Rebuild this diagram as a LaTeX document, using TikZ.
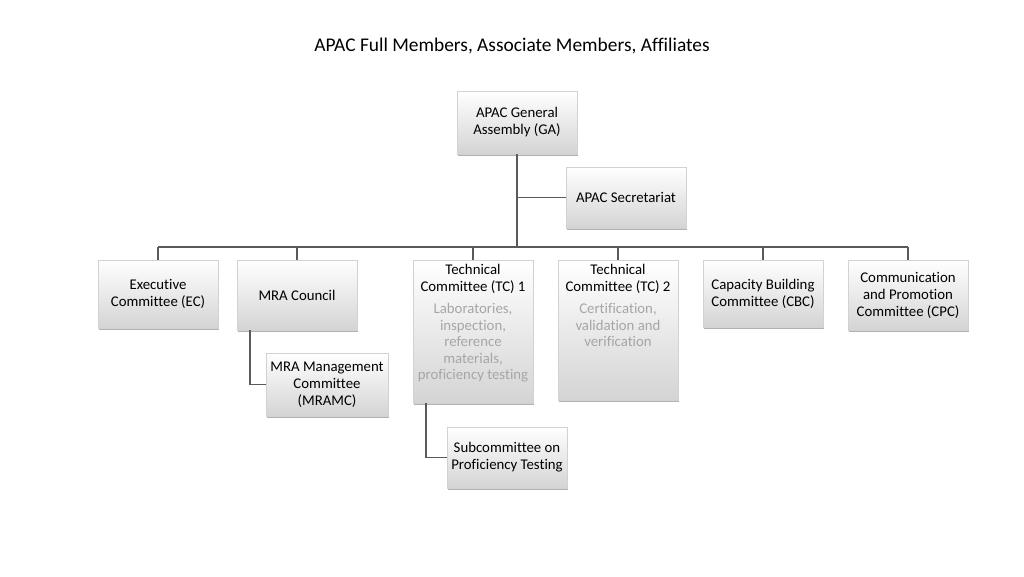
\documentclass[tikz,border=0pt]{standalone}
\usepackage{fontspec}
\setmainfont{Carlito}[Ligatures=CommonOff]
\usetikzlibrary{shadows}
\definecolor{conncol}{HTML}{5A5A5A}
\definecolor{desc}{HTML}{A6A6A6}
\definecolor{boxbot}{HTML}{D4D4D4}
\begin{document}
\begin{tikzpicture}[x=1pt,y=-1pt,
  box/.style={draw=gray!35, line width=0.4pt, top color=white, bottom color=boxbot,
    drop shadow={shadow xshift=1.2pt, shadow yshift=-1.8pt, opacity=0.5, fill=black!60},
    minimum width=120pt, align=center, inner sep=1pt,
    font=\fontsize{14.8}{17}\selectfont},
  btext/.style={anchor=north, align=center, inner sep=1pt, font=\fontsize{14.8}{16.5}\selectfont},
  conn/.style={draw=conncol, line width=1.2pt},
  trunk/.style={draw=conncol, line width=1.8pt}]
\useasboundingbox (0,0) rectangle (1024,576);
\node[font=\fontsize{19.4}{22}\selectfont] (title) at (512,46) {APAC Full Members, Associate Members, Affiliates};

\node[box, minimum height=63pt] (ga) at (517,122.5) {APAC General\\Assembly (GA)};
\node[box, minimum height=61pt] (sec) at (626,197.5) {APAC Secretariat};

\node[box, minimum height=68pt] (ec) at (158,294) {Executive\\Committee (EC)};
\node[box, minimum height=70pt] (mra) at (297,295) {MRA Council};
\node[box, minimum height=143pt, anchor=north] (tc1) at (473,260) {};
\node[btext] (tc1t) at ([yshift=-3.5pt]tc1.north) {Technical\\Committee (TC) 1\\[6pt]{\color{desc}Laboratories,}\\{\color{desc}inspection,}\\{\color{desc}reference}\\{\color{desc}materials,}\\{\color{desc}proficiency testing}};
\node[box, minimum height=140pt, anchor=north] (tc2) at (618,260) {};
\node[btext] (tc2t) at ([yshift=-3.5pt]tc2.north) {Technical\\Committee (TC) 2\\[6pt]{\color{desc}Certification,}\\{\color{desc}validation and}\\{\color{desc}verification}};
\node[box, minimum height=67pt] (cbc) at (763,293.5) {Capacity Building\\Committee (CBC)};
\node[box, minimum height=70pt] (cpc) at (908,295) {Communication\\and Promotion\\Committee (CPC)};

\node[box, minimum width=122pt, minimum height=63pt] (mramc) at (327,384.5) {MRA Management\\Committee\\(MRAMC)};
\node[box, minimum height=61pt] (sub) at (507,457.5) {Subcommittee on\\Proficiency Testing};

\coordinate (busL) at (158,247);
\coordinate (busR) at (908,247);
\draw[conn] (busL) -- (busR);
\draw[trunk] (ga.south) -- (ga.south |- busL);
\draw[conn] (sec.west) -- (sec.west -| ga.south);
\draw[conn] (ec.north) -- (ec.north |- busL);
\draw[conn] (mra.north) -- (mra.north |- busL);
\draw[conn] (tc1.north) -- (tc1.north |- busL);
\draw[conn] (tc2.north) -- (tc2.north |- busL);
\draw[conn] (cbc.north) -- (cbc.north |- busL);
\draw[conn] (cpc.north) -- (cpc.north |- busL);
\draw[conn] ([xshift=-47pt]mra.south) |- (mramc.west);
\draw[conn] ([xshift=-47pt]tc1.south) |- (sub.west);
\end{tikzpicture}
\end{document}
